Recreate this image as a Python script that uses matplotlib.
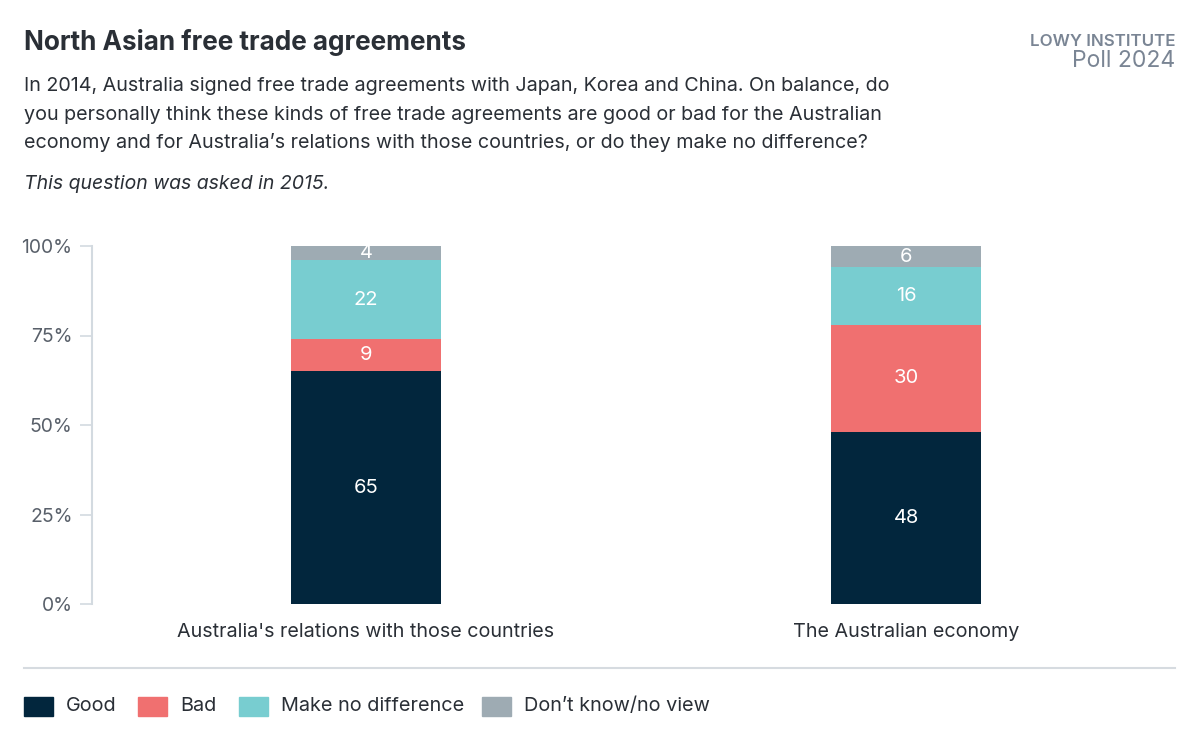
"""North Asian free trade agreements - stacked bar chart"""
import matplotlib.pyplot as plt
from matplotlib.patches import Rectangle

plt.rcParams['font.family'] = ['Inter', 'DejaVu Sans']

# Data
categories = ["Australia's relations with those countries", "The Australian economy"]
series_names = ['Good', 'Bad', 'Make no difference', 'Don\u2019t know/no view']
good = [65, 48]
bad = [9, 30]
no_difference = [22, 16]
dont_know = [4, 6]
y_ticks = [0, 25, 50, 75, 100]
y_tick_labels = ['0%', '25%', '50%', '75%', '100%']

colors = ['#02263d', '#f07070', '#78cdd0', '#9eabb3']
W, H = 1200, 744

fig = plt.figure(figsize=(12, 7.44), dpi=100)


def fx(px):
    return px / W


def fy(py):
    return 1 - py / H


ax = fig.add_axes([fx(92), fy(604), fx(1180) - fx(92), fy(246) - fy(604)])

# Stacked bars
series = [good, bad, no_difference, dont_know]
x = list(range(len(categories)))
bottoms = [0] * len(categories)
for vals, color in zip(series, colors):
    ax.bar(x, vals, bottom=bottoms, width=0.278, color=color, zorder=2)
    for i, v in enumerate(vals):
        ax.text(x[i], bottoms[i] + v / 2, str(v), ha='center', va='center',
                color='white', fontsize=14.5, zorder=3)
    bottoms = [b + v for b, v in zip(bottoms, vals)]

ax.set_xlim(-0.507, 1.507)
ax.set_ylim(0, 100)
ax.set_yticks(y_ticks)
ax.set_yticklabels(y_tick_labels)
ax.set_xticks(x)
ax.set_xticklabels(categories)
ax.tick_params(axis='y', length=9, width=1.2, color='#d3dae0', labelcolor='#59606a',
               labelsize=13.9, pad=5)
ax.tick_params(axis='x', length=0, labelcolor='#2a2f36', labelsize=14.2, pad=14)
for side in ['top', 'right', 'bottom']:
    ax.spines[side].set_visible(False)
ax.spines['left'].set_color('#d3dae0')
ax.spines['left'].set_linewidth(1.5)

# Title and subtitle
fig.text(fx(24), fy(42), 'North Asian free trade agreements', fontsize=18.8, fontweight='bold',
         color='#2a2f36', va='center')
subtitle = ['In 2014, Australia signed free trade agreements with Japan, Korea and China. On balance, do',
            'you personally think these kinds of free trade agreements are good or bad for the Australian',
            'economy and for Australia\u2019s relations with those countries, or do they make no difference?']
for i, line in enumerate(subtitle):
    fig.text(fx(24), fy(86 + 28.5 * i), line, fontsize=14.2, color='#2a2f36', va='center')
fig.text(fx(24), fy(184), 'This question was asked in 2015.', fontsize=14, style='italic',
         color='#2a2f36', va='center')

# Branding
fig.text(fx(1175), fy(41), 'LOWY INSTITUTE', fontsize=12.2, fontweight='semibold', color='#7a8594',
         ha='right', va='center')
fig.text(fx(1175), fy(61), 'Poll 2024', fontsize=16.5, color='#7a8594', ha='right', va='center')

# Separator line
fig.add_artist(plt.Line2D([fx(24), fx(1175)], [fy(668), fy(668)], color='#d6dbe0', lw=1.5))

# Legend
legend_x = [24, 138, 239, 482]
for lx, name, color in zip(legend_x, series_names, colors):
    fig.add_artist(Rectangle((fx(lx), fy(716)), fx(29), fy(697) - fy(716), color=color,
                             transform=fig.transFigure))
    fig.text(fx(lx + 42), fy(706), name, fontsize=14.3, color='#2a2f36', va='center')

fig.savefig('out.png', dpi=100)
